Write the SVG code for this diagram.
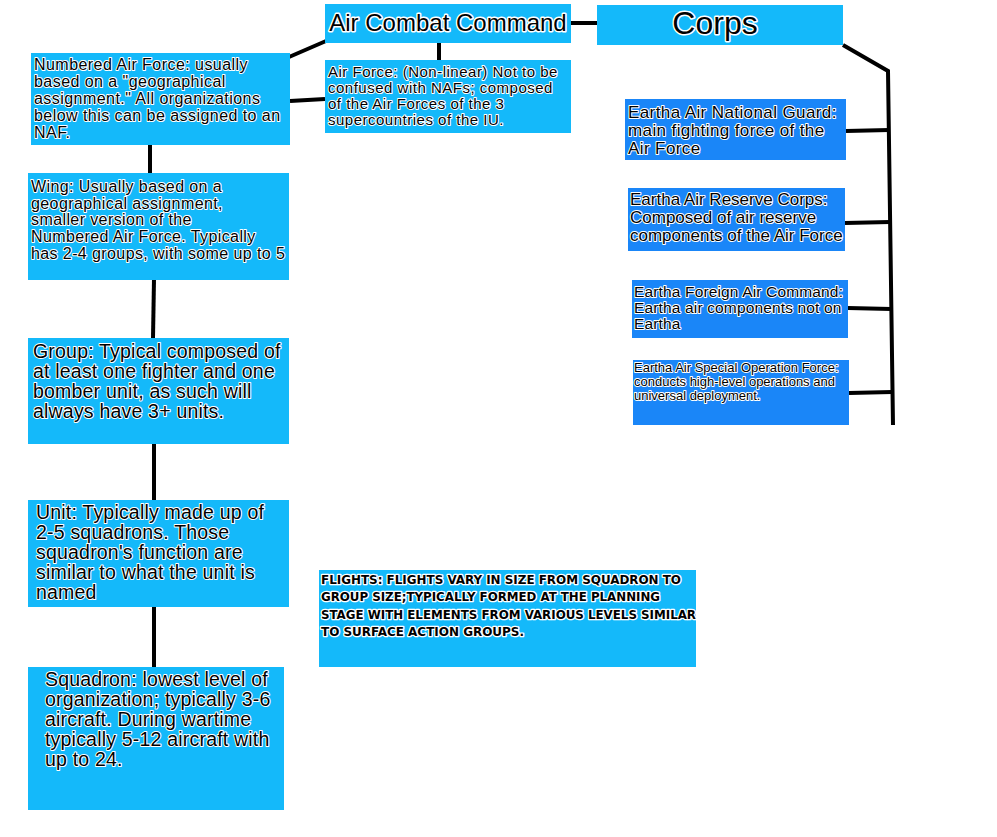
<svg xmlns="http://www.w3.org/2000/svg" width="997" height="837" viewBox="0 0 997 837">
<style>
.lb{fill:#14b9fa}
.db{fill:#1a86f8}
text{font-family:"Liberation Sans",Arial,sans-serif;fill:#000;stroke:#fff;stroke-width:2;stroke-linejoin:round;paint-order:stroke fill}
.big{stroke-width:3}
.fl{font-family:"DejaVu Sans Condensed","DejaVu Sans",sans-serif;font-weight:bold;font-size:12.5px;stroke-width:2.5}
.ln{stroke:#000;stroke-width:4;fill:none;stroke-linecap:butt;stroke-linejoin:miter}
</style>
<rect width="997" height="837" fill="#fff"/>
<g id="connectors">
<line class="ln" x1="571" y1="23" x2="597" y2="23"/>
<line class="ln" x1="326" y1="41" x2="289" y2="57"/>
<line class="ln" x1="439" y1="43" x2="439" y2="60"/>
<line class="ln" x1="290" y1="101" x2="325" y2="99"/>
<line class="ln" x1="150" y1="145" x2="150" y2="173"/>
<line class="ln" x1="154" y1="279" x2="153" y2="338"/>
<line class="ln" x1="154" y1="444" x2="154" y2="500"/>
<line class="ln" x1="154" y1="607" x2="154" y2="667"/>
<polyline class="ln" points="843,45 888,71 893,425"/>
<line class="ln" x1="846" y1="131" x2="889" y2="130"/>
<line class="ln" x1="845" y1="223" x2="890" y2="222"/>
<line class="ln" x1="848" y1="308" x2="891" y2="309"/>
<line class="ln" x1="849" y1="393" x2="892" y2="392"/>
</g>
<g id="acc">
<rect class="lb" x="325" y="4" width="246" height="39"/>
<text class="big" x="448" y="31" font-size="24" text-anchor="middle">Air Combat Command</text>
</g>
<g id="corps">
<rect class="lb" x="597" y="5" width="246" height="40"/>
<text class="big" x="715" y="34" font-size="32" text-anchor="middle">Corps</text>
</g>
<g id="naf">
<rect class="lb" x="31" y="53" width="259" height="92"/>
<text font-size="16" letter-spacing="0.45"><tspan x="34" y="70">Numbered Air Force: usually</tspan><tspan x="34" y="87">based on a "geographical</tspan><tspan x="34" y="104">assignment." All organizations</tspan><tspan x="34" y="121">below this can be assigned to an</tspan><tspan x="34" y="138">NAF.</tspan></text>
</g>
<g id="airforce">
<rect class="lb" x="325" y="60" width="246" height="73"/>
<text font-size="15" letter-spacing="0.5"><tspan x="328" y="77">Air Force: (Non-linear) Not to be</tspan><tspan x="328" y="93">confused with NAFs; composed</tspan><tspan x="328" y="109">of the Air Forces of the 3</tspan><tspan x="328" y="125">supercountries of the IU.</tspan></text>
</g>
<g id="wing">
<rect class="lb" x="28" y="173" width="261" height="107"/>
<text font-size="16" letter-spacing="0.4"><tspan x="31" y="192">Wing: Usually based on a</tspan><tspan x="31" y="209">geographical assignment,</tspan><tspan x="31" y="225">smaller version of the</tspan><tspan x="31" y="242">Numbered Air Force. Typically</tspan><tspan x="31" y="259">has 2-4 groups, with some up to 5</tspan></text>
</g>
<g id="group">
<rect class="lb" x="28" y="338" width="261" height="106"/>
<text font-size="19.5" letter-spacing="0.2"><tspan x="33" y="358">Group: Typical composed of</tspan><tspan x="33" y="378">at least one fighter and one</tspan><tspan x="33" y="398">bomber unit, as such will</tspan><tspan x="33" y="418">always have 3+ units.</tspan></text>
</g>
<g id="unit">
<rect class="lb" x="28" y="500" width="261" height="107"/>
<text font-size="19.5" letter-spacing="0.2"><tspan x="36" y="519">Unit: Typically made up of</tspan><tspan x="36" y="539">2-5 squadrons. Those</tspan><tspan x="36" y="559">squadron's function are</tspan><tspan x="36" y="579">similar to what the unit is</tspan><tspan x="36" y="599">named</tspan></text>
</g>
<g id="squadron">
<rect class="lb" x="28" y="667" width="256" height="143"/>
<text font-size="19.5" letter-spacing="0.2"><tspan x="45" y="686">Squadron: lowest level of</tspan><tspan x="45" y="706">organization; typically 3-6</tspan><tspan x="45" y="726">aircraft. During wartime</tspan><tspan x="45" y="746">typically 5-12 aircraft with</tspan><tspan x="45" y="766">up to 24.</tspan></text>
</g>
<g id="flights">
<rect class="lb" x="319" y="570" width="377" height="97"/>
<text class="fl"><tspan x="321" y="584" textLength="360" lengthAdjust="spacingAndGlyphs">FLIGHTS: FLIGHTS VARY IN SIZE FROM SQUADRON TO</tspan><tspan x="321" y="601" textLength="339" lengthAdjust="spacingAndGlyphs">GROUP SIZE;TYPICALLY FORMED AT THE PLANNING</tspan><tspan x="321" y="619" textLength="375" lengthAdjust="spacingAndGlyphs">STAGE WITH ELEMENTS FROM VARIOUS LEVELS SIMILAR</tspan><tspan x="321" y="636" textLength="203" lengthAdjust="spacingAndGlyphs">TO SURFACE ACTION GROUPS.</tspan></text>
</g>
<g id="national-guard">
<rect class="db" x="625" y="99" width="221" height="61"/>
<text font-size="17" letter-spacing="0.4"><tspan x="628" y="118">Eartha Air National Guard:</tspan><tspan x="628" y="136">main fighting force of the</tspan><tspan x="628" y="154">Air Force</tspan></text>
</g>
<g id="reserve">
<rect class="db" x="628" y="188" width="217" height="63"/>
<text font-size="17"><tspan x="630" y="205">Eartha Air Reserve Corps:</tspan><tspan x="630" y="223">Composed of air reserve</tspan><tspan x="630" y="241">components of the Air Force</tspan></text>
</g>
<g id="foreign">
<rect class="db" x="632" y="280" width="216" height="58"/>
<text font-size="15.5" letter-spacing="0.15"><tspan x="634" y="297">Eartha Foreign Air Command:</tspan><tspan x="634" y="313">Eartha air components not on</tspan><tspan x="634" y="329">Eartha</tspan></text>
</g>
<g id="special">
<rect class="db" x="633" y="360" width="216" height="65"/>
<text font-size="13"><tspan x="634" y="372">Eartha Air Special Operation Force:</tspan><tspan x="634" y="386">conducts high-level operations and</tspan><tspan x="634" y="400">universal deployment.</tspan></text>
</g>
</svg>
